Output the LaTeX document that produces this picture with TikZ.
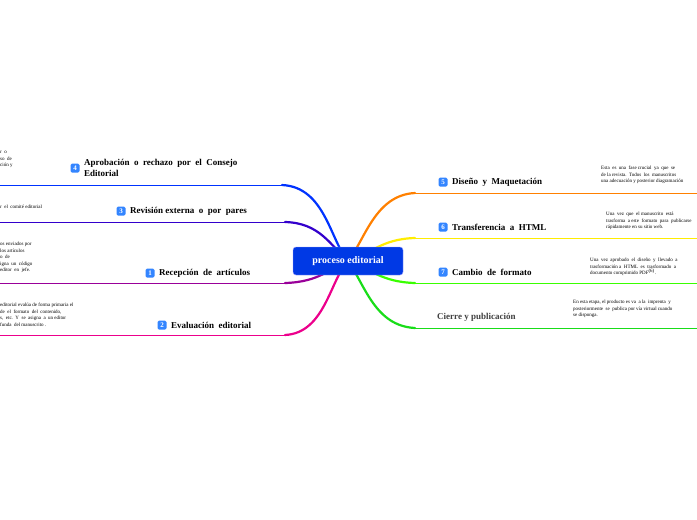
\documentclass[tikz,border=0pt]{standalone}
\usepackage{fontspec}
\setmainfont{Liberation Serif}
\begin{document}
\begin{tikzpicture}[x=1pt,y=-1pt,
  badge/.style={fill=blue!60!cyan!80,text=white,rounded corners=1.5pt,inner sep=1.3pt,font=\bfseries\fontsize{7}{7}\selectfont,minimum size=9pt},
  title/.style={font=\bfseries\fontsize{9}{10.5}\selectfont,anchor=west,align=left,inner sep=0pt},
  desc/.style={font=\fontsize{5}{6.5}\selectfont,anchor=north west,align=left,inner sep=0pt},
  br/.style={line width=2.2pt,line cap=round},
  ul/.style={line width=1pt}]
\path[use as bounding box] (0,0) rectangle (697,520);
\clip (0,0) rectangle (697,520);
\fill[white] (0,0) rectangle (697,520);
\coordinate (c) at (348,261);
% left branches
\draw[ul,blue!80!cyan] (0,185) -- (282,185);
\draw[br,blue!80!cyan] (282,185) .. controls (325,187) and (330,240) .. (c);
\draw[ul,blue!60!violet] (0,222) -- (285,222);
\draw[br,blue!60!violet] (285,222) .. controls (320,223) and (330,245) .. (c);
\draw[ul,violet!80!magenta] (0,283) -- (285,283);
\draw[br,violet!80!magenta] (285,283) .. controls (320,282) and (330,268) .. (c);
\draw[ul,magenta] (0,335) -- (285,335);
\draw[br,magenta] (285,335) .. controls (325,333) and (330,280) .. (c);
% right branches
\draw[ul,orange] (415,193) -- (697,193);
\draw[br,orange] (415,193) .. controls (375,195) and (365,240) .. (c);
\draw[ul,yellow!95!orange] (415,238) -- (697,238);
\draw[br,yellow!95!orange] (415,238) .. controls (380,239) and (370,255) .. (c);
\draw[ul,green!70!lime] (415,283) -- (697,283);
\draw[br,green!70!lime] (415,283) .. controls (380,282) and (370,268) .. (c);
\draw[ul,green!85!black!90] (415,328) -- (697,328);
\draw[br,green!85!black!90] (415,328) .. controls (375,326) and (365,285) .. (c);
% centre
\node[fill=blue!75!cyan!90!black,draw=blue!40,text=white,rounded corners=3pt,minimum width=110pt,minimum height=28pt,font=\bfseries\fontsize{10}{12}\selectfont] (center) at (c) {proceso editorial};
% left titles
\node[badge] (b4) at (75,168) {4};
\node[title] (t4) at (84,168) {Aprobación\ \ o\ \ rechazo\ \ por\ \ el\ \ Consejo\\Editorial};
\node[badge] (b3) at (121,211) {3};
\node[title] (t3) at (130,211) {Revisión externa\ \ o\ \ por\ \ pares};
\node[badge] (b1) at (150,273) {1};
\node[title] (t1) at (159,273) {Recepción\ \ de\ \ artículos};
\node[badge] (b2) at (162,325) {2};
\node[title] (t2) at (171,325) {Evaluación\ \ editorial};
% right titles
\node[badge] (b5) at (443,182) {5};
\node[title] (t5) at (452,182) {Diseño\ \ y\ \ Maquetación};
\node[badge] (b6) at (443,227) {6};
\node[title] (t6) at (452,227) {Transferencia\ \ a\ \ HTML};
\node[badge] (b7) at (443,272) {7};
\node[title,] (t7) at (452,272) {Cambio\ \ de\ \ formato};
\node[title,text=black!75] (t8) at (437,317) {Cierre y publicación};
% left descriptions
\node[desc] (d4) at (0,151) {r\ \ o\\so\ \ de\\ción y};
\node[desc] (d3) at (0,205) {r\ \ el\ \ comité editorial};
\node[desc] (d1) at (0,242) {os enviados por\\ los artículos\\o\ \ de\\igna\ \ un\ \ código\\editor\ \ en\ \ jefe.};
\node[desc] (d2) at (0,303) {editorial evalúa de forma primaria el\\de\ \ el\ \ formato\ \ del\ \ contenido,\\s,\ \ etc.\ \ Y\ \ se\ \ asigna\ \ a\ \ un editor\\funda\ \ del manuscrito .};
% right descriptions
\node[desc] (d5) at (601,166) {Esta\ \ es\ \ una\ \ fase crucial\ \ ya\ \ que\ \ se\\de la revista.\ \ Todos\ \ los\ \ manuscritos\\una adecuación y posterior diagramación};
\node[desc] (d6) at (606,212) {Una\ \ vez\ \ que\ \ el manuscrito\ \ está\\trasforma\ \ a este\ \ formato\ \ para\ \ publicarse\\rápidamente en su sitio web.};
\node[desc] (d7) at (590,258) {Una\ \ vez\ \ aprobado\ \ el\ \ diseño\ \ y\ \ llevado\ \ a\\trasformación a\ \ HTML\ \ es\ \ trasformado\ \ a\\documento comprimido PDF\textsuperscript{(6)}.};
\node[desc] (d8) at (573,300) {En esta etapa, el producto es va\ \ a la\ \ imprenta\ \ y\\posteriormente\ \ se\ \ publica por vía virtual cuando\\se disponga.};
\end{tikzpicture}
\end{document}
